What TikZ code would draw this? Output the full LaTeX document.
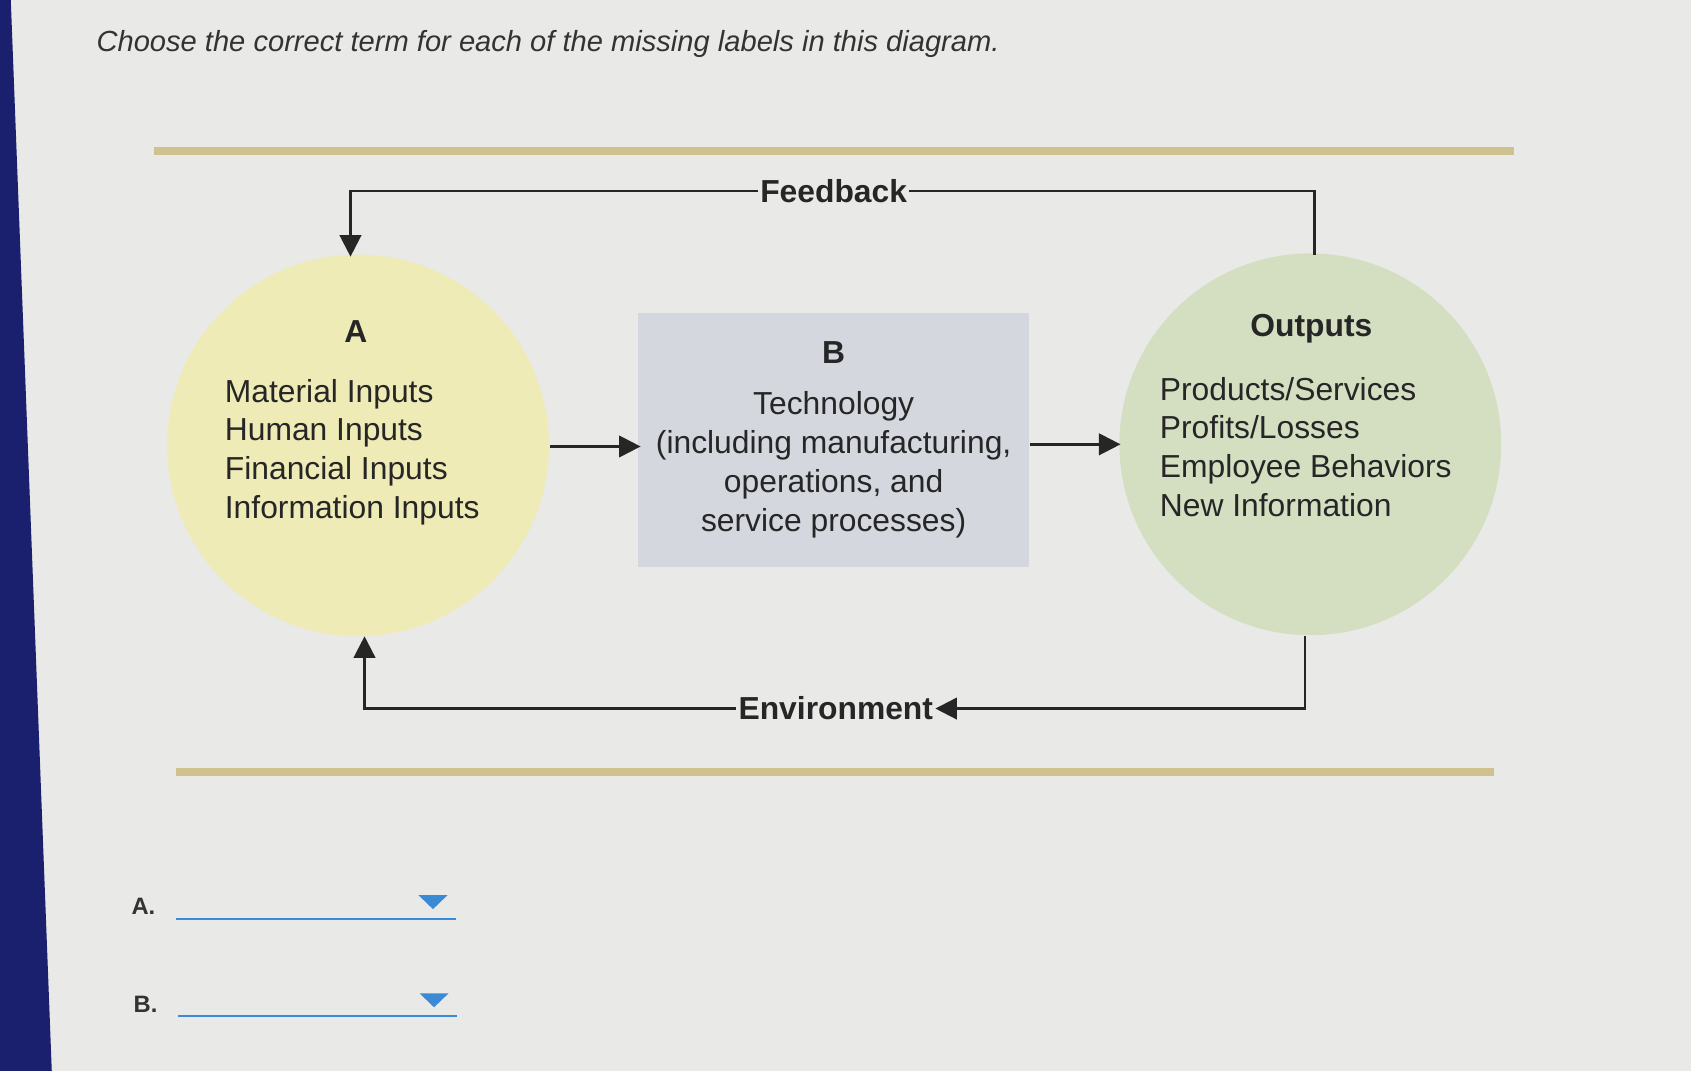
\documentclass[tikz,border=0pt]{standalone}
\usepackage{fontspec}
\setmainfont{Liberation Sans}
\usetikzlibrary{arrows.meta}
\definecolor{bg}{HTML}{E9E9E7}
\definecolor{gold}{HTML}{CFC28E}
\definecolor{cyel}{HTML}{EEEBB6}
\definecolor{cgrn}{HTML}{D3DFC0}
\definecolor{cbox}{HTML}{D4D8DE}
\definecolor{navy}{HTML}{1A1F6E}
\definecolor{lblue}{HTML}{3A8AD6}
\begin{document}
\begin{tikzpicture}[x=1pt,y=-1pt,
  txt/.style={font=\fontsize{29.5}{36}\selectfont,text=black!85},
  hd/.style={font=\fontsize{29.5}{36}\selectfont\bfseries,text=black!85},
  ln/.style={line width=2.2pt,black!85},
  arr/.style={ln,-{Triangle[length=20pt,width=20pt]}}]
\useasboundingbox (0,0) rectangle (1568,993);
\fill[bg] (0,0) rectangle (1568,993);
\fill[navy] (0,0) -- (10,0) -- (48,993) -- (0,993) -- cycle;
\node[anchor=west,font=\fontsize{27}{32}\selectfont\itshape,text=black!80] (title) at (86,41) {Choose the correct term for each of the missing labels in this diagram.};
\draw[gold,line width=7pt] (143,140) -- (1404,140);
\draw[gold,line width=7pt] (163,716) -- (1385,716);
\node[circle,fill=cyel,minimum size=354pt] (A) at (332,413) {};
\node[fill=cbox,minimum width=363pt,minimum height=235pt] (B) at (773,408) {};
\node[circle,fill=cgrn,minimum size=354pt] (C) at (1215,412) {};
\node[hd] (Ah) at (330,307) {A};
\node[txt,align=left,anchor=north west] (At) at (205,348) {Material Inputs\\Human Inputs\\Financial Inputs\\Information Inputs};
\node[hd] (Bh) at (773,327) {B};
\node[txt,align=center] (Bt) at (773,431) {Technology\\(including manufacturing,\\operations, and\\service processes)};
\node[hd] (Ch) at (1216,305) {Outputs};
\node[txt,align=left,anchor=north west] (Ct) at (1072,346) {Products/Services\\Profits/Losses\\Employee Behaviors\\New Information};
\node[hd,fill=bg,inner sep=2pt] (fb) at (773,177) {Feedback};
\node[hd,fill=bg,inner sep=2pt] (env) at (775,657) {Environment};
\coordinate (a1) at (510,414); \coordinate (a2) at (594,414);
\coordinate (b1) at (955,412); \coordinate (b2) at (1039,412);
\draw[arr] (a1) -- (a2);
\draw[arr] (b1) -- (b2);
\coordinate (f0) at (1219,236); \coordinate (f1) at (325,238);
\draw[arr] (f0) |- (fb.east) (fb.west) -| (f1);
\coordinate (e0) at (1210,590); \coordinate (e1) at (338,590);
\draw[arr] (e0) |- (env.east);
\draw[arr] (env.west) -| (e1);
\node[font=\fontsize{22}{26}\selectfont\bfseries,text=black!80] (la) at (133,840) {A.};
\node[font=\fontsize{22}{26}\selectfont\bfseries,text=black!80] (lb) at (135,931) {B.};
\coordinate (la1) at (163,852); \coordinate (la2) at (423,852);
\coordinate (lb1) at (165,942); \coordinate (lb2) at (424,942);
\draw[lblue,line width=1.5pt] (la1) -- (la2);
\draw[lblue,line width=1.5pt] (lb1) -- (lb2);
\fill[lblue] (388,830) -- (415,830) -- (401.5,843) -- cycle;
\fill[lblue] (389,921) -- (416,921) -- (402.5,934) -- cycle;
\end{tikzpicture}
\end{document}
